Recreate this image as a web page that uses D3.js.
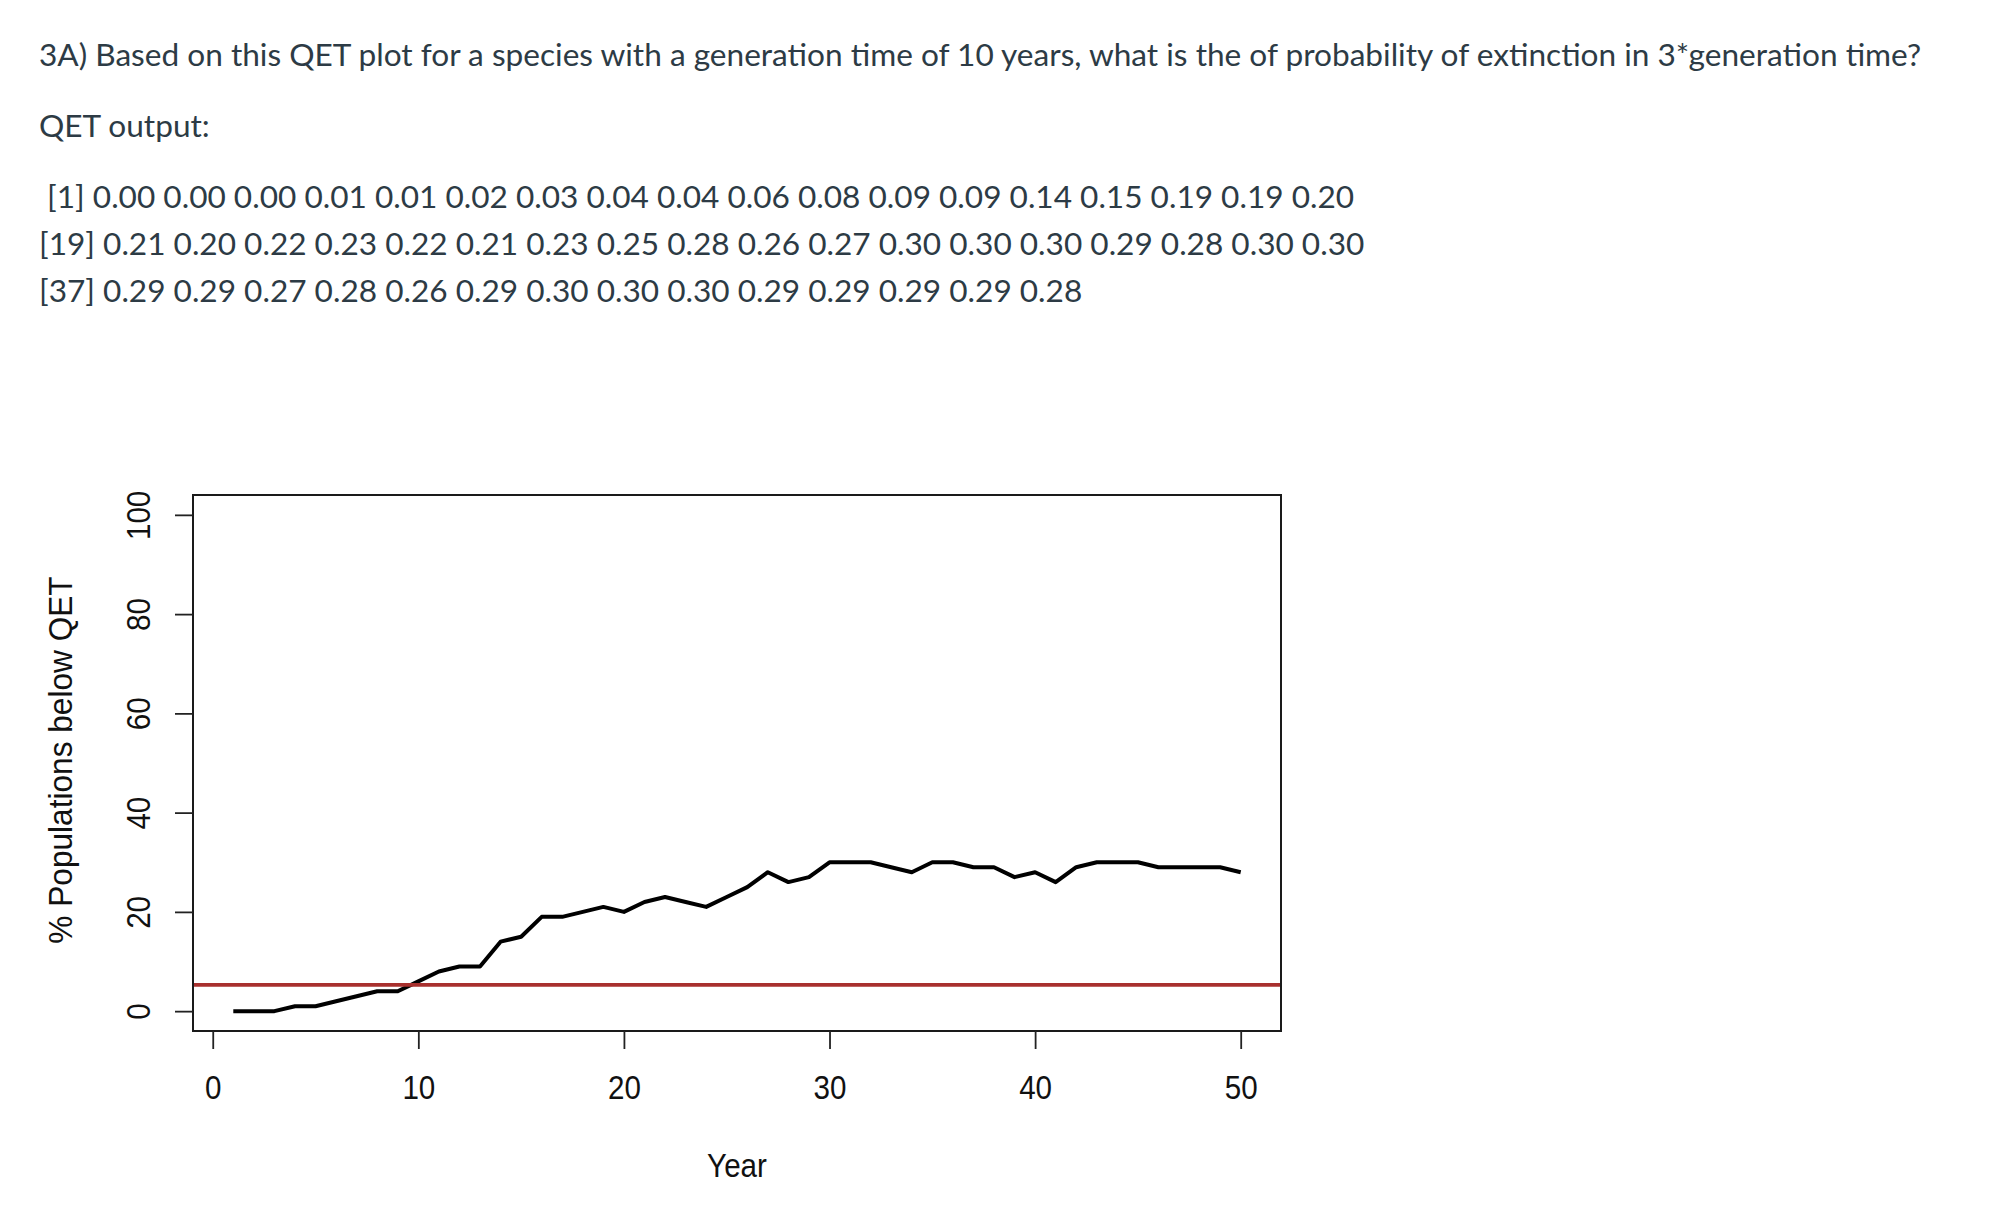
<!DOCTYPE html>
<html>
<head>
<meta charset="utf-8">
<script src="https://cdn.jsdelivr.net/npm/d3@7"></script>
<style>
  html, body { margin: 0; background: #fff; }
  svg { display: block; }
</style>
</head>
<body>
<svg id="chart"></svg>
<script>
// question text
const question = "3A) Based on this QET plot for a species with a generation time of 10 years, what is the of probability of extinction in 3*generation time?";
const outputLabel = "QET output:";

// QET output, probability per year (R print, 18 values per row)
const qetOutput = [
  0.00, 0.00, 0.00, 0.01, 0.01, 0.02, 0.03, 0.04, 0.04, 0.06, 0.08, 0.09, 0.09, 0.14, 0.15, 0.19, 0.19, 0.20,
  0.21, 0.20, 0.22, 0.23, 0.22, 0.21, 0.23, 0.25, 0.28, 0.26, 0.27, 0.30, 0.30, 0.30, 0.29, 0.28, 0.30, 0.30,
  0.29, 0.29, 0.27, 0.28, 0.26, 0.29, 0.30, 0.30, 0.30, 0.29, 0.29, 0.29, 0.29, 0.28
];
const perRow = 18;
const qetThreshold = 5.3;   // red reference line, in %

const xTicks = [0, 10, 20, 30, 40, 50];
const yTicks = [0, 20, 40, 60, 80, 100];
const yLimits = [0, 100];
const xLabel = "Year";
const yLabel = "% Populations below QET";

const width = 1990, height = 1214;
const box = { left: 193, top: 495, right: 1281, bottom: 1031 };

const svg = d3.select("#chart").attr("width", width).attr("height", height);

// ---- text part (Canvas style) ----
const textColor = "#2d3b45";
const head = svg.append("g")
  .attr("font-family", "Lato, 'Open Sans', sans-serif")
  .attr("fill", textColor);

const q = head.append("text")
  .attr("x", 39)
  .attr("y", 66)
  .attr("font-size", 33)
  .text(question);
// fit the font size so the question spans the same width as the screenshot
const fs = 33 * 1883 / q.node().getComputedTextLength();
head.attr("font-size", fs);
q.attr("font-size", null);

head.append("text")
  .attr("x", 39)
  .attr("y", 137)
  .text(outputLabel);

const rows = d3.range(0, qetOutput.length, perRow).map(i => {
  const idx = `[${i + 1}]`.padStart(4, " ");
  return idx + " " + qetOutput.slice(i, i + perRow).map(v => v.toFixed(2)).join(" ");
});

head.selectAll("text.row")
  .data(rows)
  .join("text")
  .attr("class", "row")
  .attr("x", 39)
  .attr("y", (d, i) => 208 + i * 47)
  .style("white-space", "pre")
  .text(d => d);

// ---- R plot ----
const xs = qetOutput.map((d, i) => i + 1);
const xPad = 0.04 * (d3.max(xs) - d3.min(xs));
const yPad = 0.04 * (yLimits[1] - yLimits[0]);

const x = d3.scaleLinear()
  .domain([d3.min(xs) - xPad, d3.max(xs) + xPad])
  .range([box.left, box.right]);
const y = d3.scaleLinear()
  .domain([yLimits[0] - yPad, yLimits[1] + yPad])
  .range([box.bottom, box.top]);

const rFont = "'Liberation Sans', Arial, sans-serif";
const rSize = 34;
const squeeze = 0.87;
const ink = "#111";

const plot = svg.append("g");

// line
const line = d3.line()
  .x((d, i) => x(xs[i]))
  .y(d => y(d * 100));

plot.append("path")
  .datum(qetOutput)
  .attr("d", line)
  .attr("fill", "none")
  .attr("stroke", "#000")
  .attr("stroke-width", 4)
  .attr("stroke-linejoin", "round")
  .attr("stroke-linecap", "butt");

// QET reference line
plot.append("line")
  .attr("x1", box.left)
  .attr("x2", box.right)
  .attr("y1", y(qetThreshold))
  .attr("y2", y(qetThreshold))
  .attr("stroke", "#a8302e")
  .attr("stroke-width", 3.8);

// box
plot.append("rect")
  .attr("x", box.left)
  .attr("y", box.top)
  .attr("width", box.right - box.left)
  .attr("height", box.bottom - box.top)
  .attr("fill", "none")
  .attr("stroke", "#1a1a1a")
  .attr("stroke-width", 2);

// axes
const gx = plot.append("g")
  .attr("transform", `translate(0,${box.bottom})`)
  .call(d3.axisBottom(x).tickValues(xTicks).tickSize(18).tickPadding(26).tickFormat(d3.format("d")));
const gy = plot.append("g")
  .attr("transform", `translate(${box.left},0)`)
  .call(d3.axisLeft(y).tickValues(yTicks).tickSize(18).tickFormat(d3.format("d")));

[gx, gy].forEach(g => {
  g.select(".domain").remove();
  g.selectAll(".tick line").attr("stroke", "#222").attr("stroke-width", 1.8);
  g.selectAll(".tick text")
    .attr("font-family", rFont)
    .attr("font-size", rSize)
    .attr("fill", ink);
});

gx.selectAll(".tick text")
  .attr("transform", `scale(${squeeze},1)`);

gy.selectAll(".tick text")
  .attr("x", null)
  .attr("dy", null)
  .attr("text-anchor", "middle")
  .attr("transform", `translate(-43,0) rotate(-90) scale(${squeeze},1)`);

// axis titles
plot.append("text")
  .attr("transform", `translate(${(box.left + box.right) / 2},1177) scale(${squeeze},1)`)
  .attr("text-anchor", "middle")
  .attr("font-family", rFont)
  .attr("font-size", rSize)
  .attr("fill", ink)
  .text(xLabel);

plot.append("text")
  .attr("transform", `translate(72,${(box.top + box.bottom) / 2 - 3}) rotate(-90) scale(0.93,1)`)
  .attr("text-anchor", "middle")
  .attr("font-family", rFont)
  .attr("font-size", rSize)
  .attr("fill", ink)
  .text(yLabel);
</script>
</body>
</html>
